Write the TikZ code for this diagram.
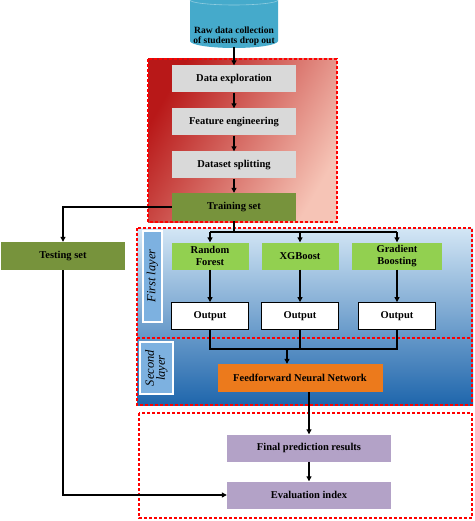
\documentclass[tikz,border=0pt]{standalone}
\usepackage{fontspec}
\setmainfont{Liberation Serif}
\usetikzlibrary{shapes.geometric,arrows.meta}
\definecolor{rawblue}{HTML}{45AACB}
\definecolor{stepgray}{HTML}{D9D9D9}
\definecolor{olive}{HTML}{77933C}
\definecolor{modelgreen}{HTML}{92D050}
\definecolor{ffnorange}{HTML}{EC7A1C}
\definecolor{resultpurple}{HTML}{B3A2C7}
\definecolor{reddark}{HTML}{B81818}
\definecolor{redmid}{HTML}{E6644F}
\definecolor{redlight}{HTML}{F6C4B6}
\definecolor{bluetop}{HTML}{D3E6F5}
\definecolor{bluemid}{HTML}{7FB2DE}
\definecolor{bluebot}{HTML}{1F66AC}
\definecolor{tagblue}{HTML}{7DB1E0}
\begin{document}
\begin{tikzpicture}[x=1pt,y=-1pt,
    lbl/.style={font=\bfseries\fontsize{10.5}{11.5}\selectfont, inner sep=1pt, align=center},
    stepbox/.style={lbl, fill=stepgray, minimum width=124, minimum height=27},
    setbox/.style={lbl, fill=olive, minimum width=124, minimum height=28},
    modelbox/.style={lbl, fill=modelgreen, minimum width=77, minimum height=27},
    outbox/.style={lbl, fill=white, draw=black, line width=0.8pt, minimum width=77, minimum height=27},
    resbox/.style={lbl, fill=resultpurple, minimum width=164, minimum height=27},
    tagbox/.style={fill=tagblue, draw=white, line width=1.2pt},
    tagtext/.style={rotate=90, font=\itshape\fontsize{12.5}{11}\selectfont, align=center, inner sep=0pt},
    frame/.style={draw=red, line width=1.2pt, dash pattern=on 3pt off 2pt},
    arr/.style={-{Triangle[length=5pt,width=5pt]}, line width=1.1pt},
    ln/.style={line width=1.1pt}]
\useasboundingbox (0,0) rectangle (474,521);

% backgrounds
\shade[left color=reddark, middle color=redmid, right color=redlight, shading angle=60] (148,59) rectangle (337,222);
\shade[top color=bluetop, middle color=bluemid, bottom color=bluebot] (137,228) rectangle (473,405);
\draw[tagbox] (143,231) rectangle (162,322);
\draw[tagbox] (140,342) rectangle (173,394);

% database
\fill[rawblue] (190,-10) -- (190,41) arc[start angle=180, end angle=0, x radius=44, y radius=7] -- (278,-10) -- cycle;
\draw[rawblue!60!white, line width=0.6pt] (190,0) arc[start angle=180, end angle=0, x radius=44, y radius=5];
\node[font=\bfseries\fontsize{9.5}{10.5}\selectfont, align=center, inner sep=0pt, minimum height=22] (raw) at (234,36) {Raw data collection\\of students drop out};

% data
\node[stepbox] (explore) at (234,79) {Data exploration};
\node[stepbox] (feature) at (234,122) {Feature engineering};
\node[stepbox] (split) at (234,165) {Dataset splitting};
\node[setbox] (train) at (234,207) {Training set};
\node[setbox] (test) at (63,256) {Testing set};

% first layer
\node[modelbox] (rf) at (210,256) {Random\\Forest};
\node[modelbox] (xgb) at (300,256) {XGBoost};
\node[modelbox, minimum width=90] (gb) at (397,256) {Gradient\\Boosting};
\node[outbox] (out1) at (210,316) {Output};
\node[outbox] (out2) at (300,316) {Output};
\node[outbox] (out3) at (397,316) {Output};
\node[tagtext] (tag1) at (152.5,276) {First layer};

% second layer
\node[lbl, fill=ffnorange, minimum width=165, minimum height=28] (ffn) at (300,378) {Feedforward Neural Network};
\node[tagtext] (tag2) at (156.5,368) {Second\\layer};

% results
\node[resbox] (final) at (309,448) {Final prediction results};
\node[resbox] (eval) at (309,495) {Evaluation index};

% frames
\draw[frame] (148,59) rectangle (337,222);
\draw[frame] (137,228) rectangle (472,405);
\draw[frame] (137,338) -- (472,338);
\draw[frame] (139,413) rectangle (472,518);

% connectors
\coordinate (fork) at (234,232);
\coordinate (merge) at (287,349);
\draw[arr] (raw.south) -- (explore.north);
\draw[arr] (explore) -- (feature);
\draw[arr] (feature) -- (split);
\draw[arr] (split) -- (train);
\draw[arr] (train.west) -| (test.north);
\draw[ln] (train.south) -- (fork);
\draw[ln] (rf.north |- fork) -- (gb.north |- fork);
\draw[arr] (rf.north |- fork) -- (rf.north);
\draw[arr] (xgb.north |- fork) -- (xgb.north);
\draw[arr] (gb.north |- fork) -- (gb.north);
\draw[arr] (rf) -- (out1);
\draw[arr] (xgb) -- (out2);
\draw[arr] (gb) -- (out3);
\draw[ln] (out1.south) -- (out1.south |- merge) -- (out3.south |- merge) -- (out3.south);
\draw[ln] (out2.south) -- (out2.south |- merge);
\draw[arr] (merge) -- (merge |- ffn.north);
\draw[arr] (ffn.south -| final.north) -- (final.north);
\draw[arr] (final) -- (eval);
\draw[arr] (test.south) |- (eval.west);
\end{tikzpicture}
\end{document}
